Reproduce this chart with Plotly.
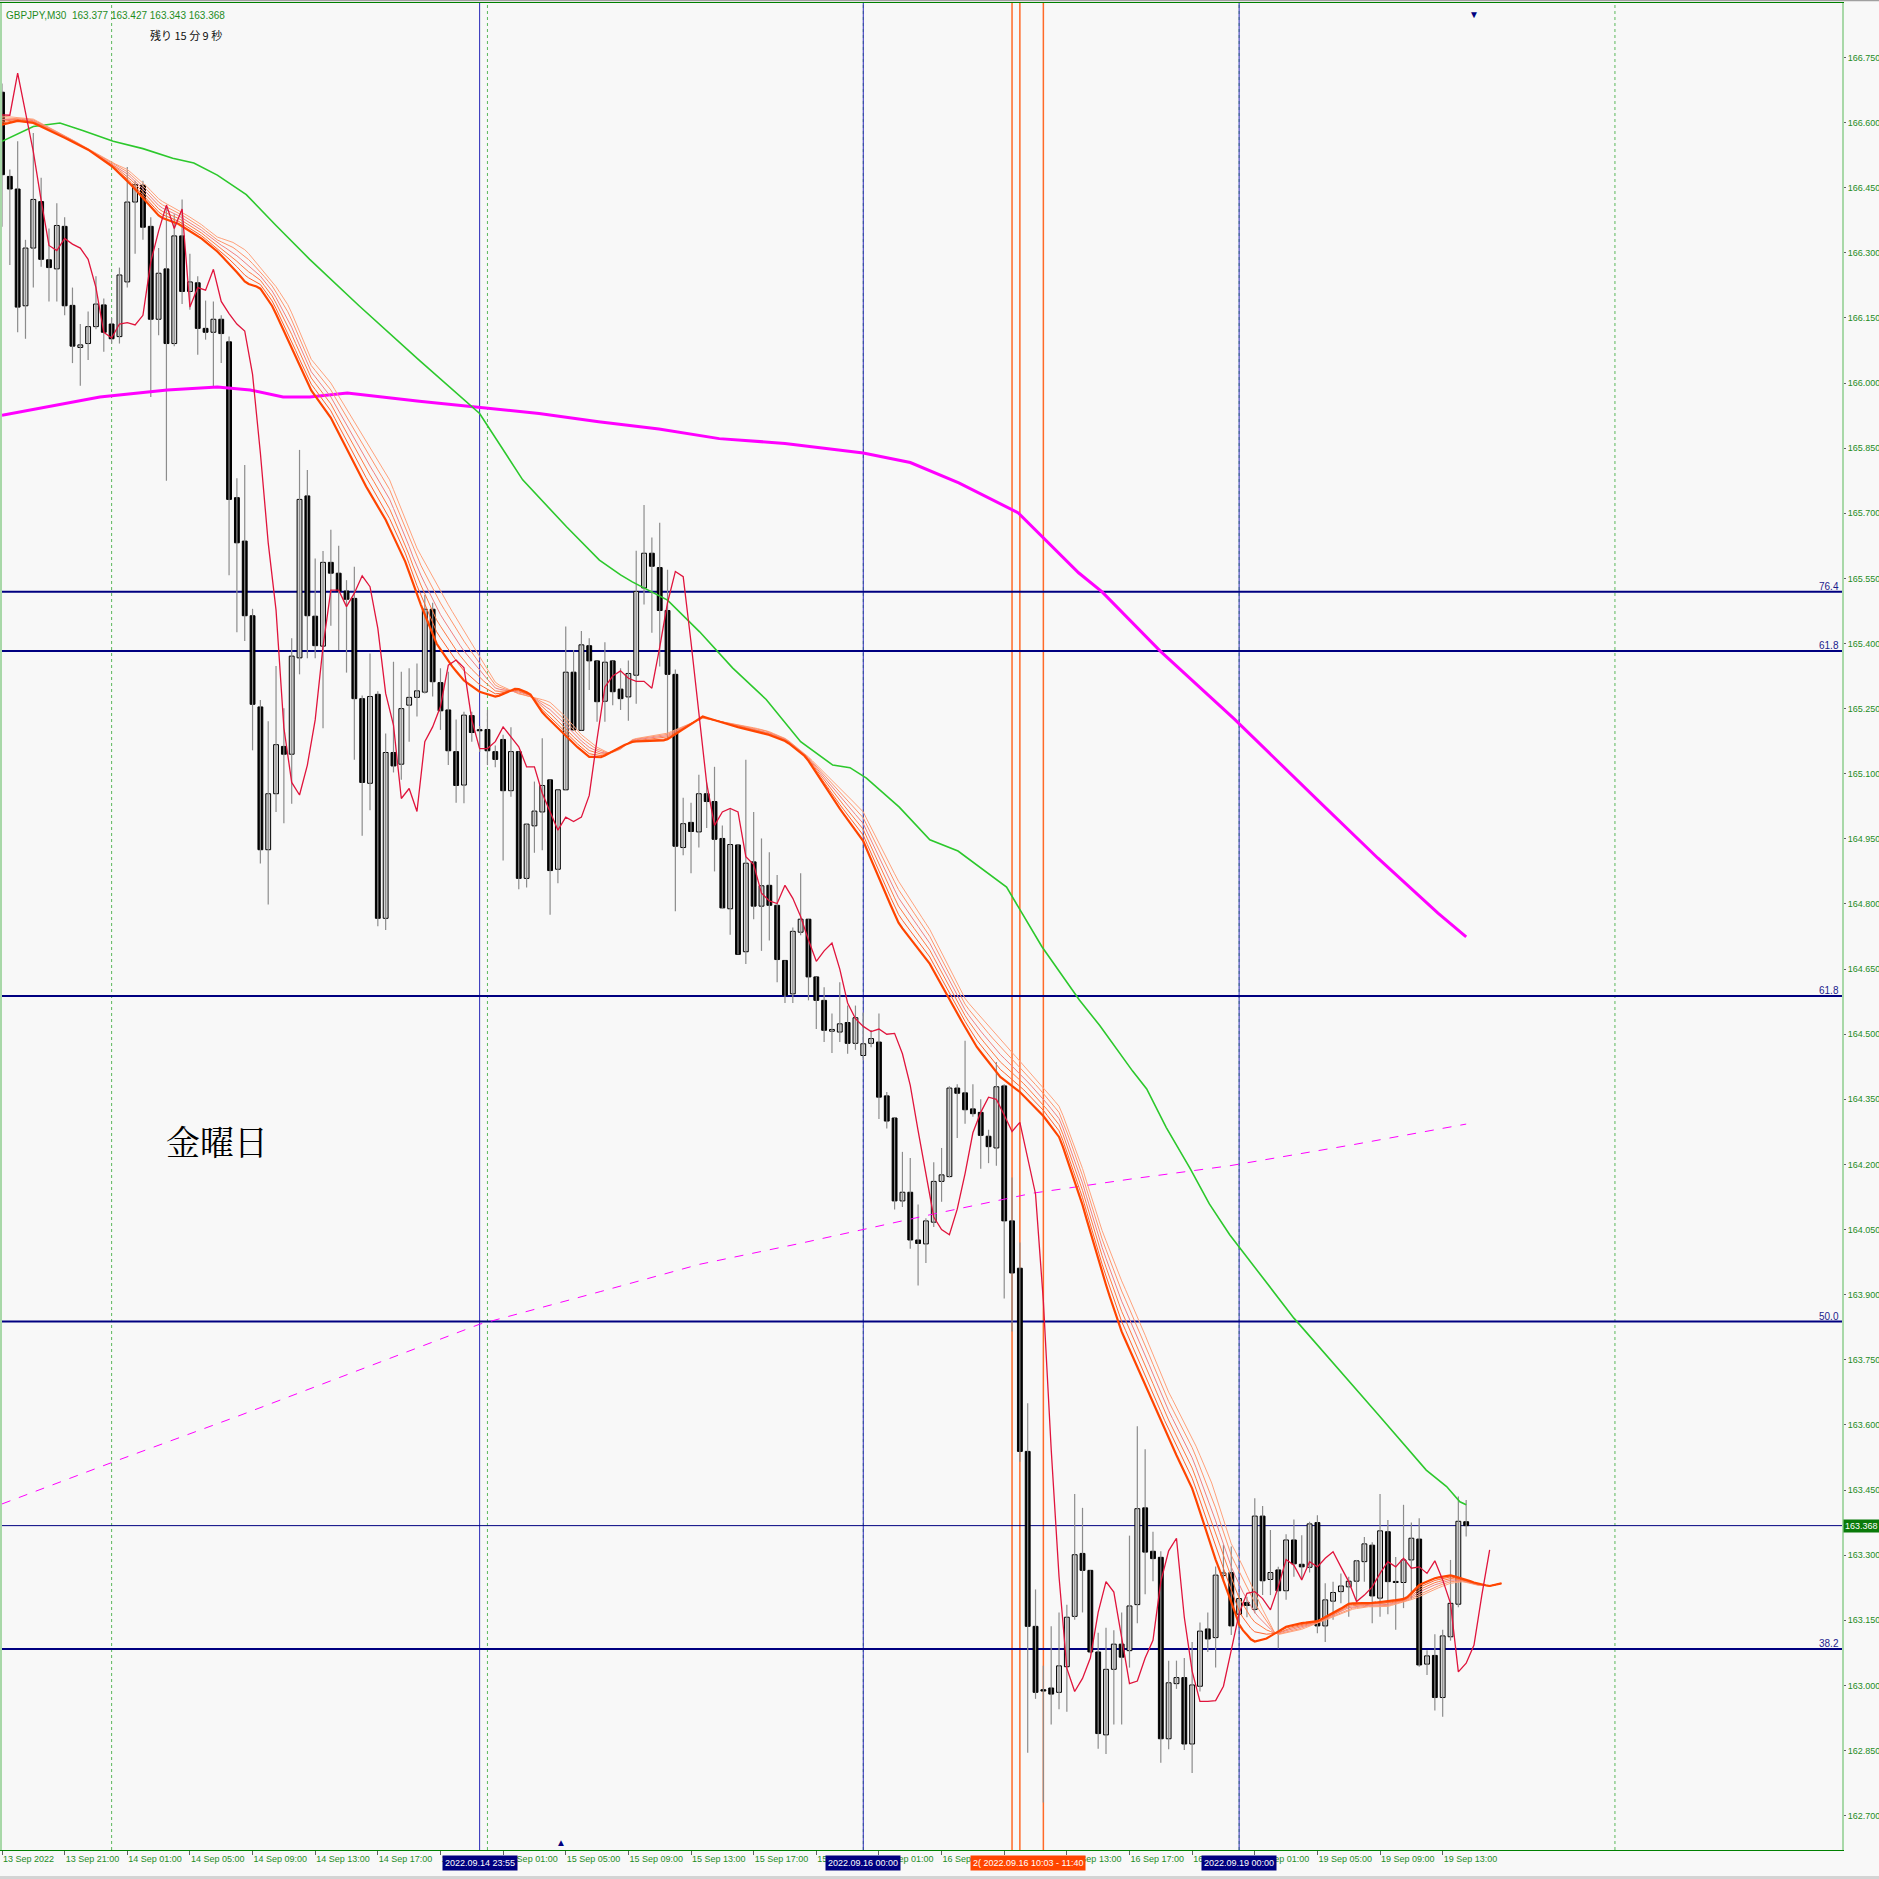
import numpy as np
import plotly.graph_objects as go

# ---------------- data ----------------
OPEN = [166.67,166.476,166.447,166.178,166.311,166.418,166.284,166.263,166.361,166.179,
166.082,166.091,166.13,166.18,166.136,166.107,166.233,166.417,166.456,166.361,
166.147,166.263,166.091,166.339,166.211,166.231,166.126,166.117,166.147,166.095,
165.736,165.636,165.464,165.254,164.925,165.054,165.163,165.145,165.367,165.74,
165.463,165.394,165.587,165.562,165.521,165.504,165.273,165.078,165.283,164.767,
165.149,165.122,165.258,165.276,165.288,165.479,165.31,165.247,165.151,165.074,
165.234,165.201,165.202,165.151,165.179,165.061,165.151,164.859,164.98,165.012,
165.086,164.88,165.063,165.334,165.2,165.395,165.36,165.267,165.36,165.295,
165.277,165.327,165.528,165.608,165.575,165.476,165.329,164.93,164.988,164.966,
165.054,165.036,164.951,164.789,164.936,164.69,164.897,164.795,164.843,164.797,
164.67,164.593,164.735,164.765,164.632,164.578,164.507,164.505,164.527,164.479,
164.451,164.479,164.482,164.358,164.307,164.116,164.136,164.026,164.017,164.067,
164.161,164.172,164.376,164.365,164.328,164.32,164.265,164.238,164.381,164.07,
163.961,163.539,163.136,162.99,162.994,162.984,163.043,163.159,163.304,163.265,
163.077,162.886,163.037,163.095,163.08,163.186,163.409,163.309,163.295,162.877,
163.004,163.018,162.865,162.998,163.13,163.11,163.253,163.26,163.164,163.191,
163.175,163.39,163.244,163.266,163.218,163.335,163.279,163.272,163.375,163.137,
163.194,163.216,163.227,163.24,163.285,163.323,163.201,163.354,163.238,163.237,
163.289,163.337,163.049,163.069,162.972,163.112,163.187,163.377]
HIGH = [166.69,166.492,166.557,166.33,166.576,166.473,166.356,166.414,166.382,166.22,
166.136,166.165,166.246,166.195,166.15,166.266,166.498,166.466,166.466,166.382,
166.311,166.408,166.389,166.423,166.298,166.246,166.19,166.188,166.156,166.107,
165.781,165.811,165.48,165.27,165.221,165.348,165.251,165.412,165.846,165.80,
165.596,165.613,165.662,165.625,165.546,165.577,165.28,165.377,165.29,165.193,
165.358,165.335,165.343,165.354,165.512,165.494,165.343,165.335,165.225,165.243,
165.243,165.21,165.247,165.165,165.19,165.207,165.151,164.984,165.082,165.182,
165.086,165.063,165.439,165.385,165.429,165.412,165.36,165.403,165.36,165.343,
165.361,165.614,165.719,165.644,165.678,165.57,165.34,165.045,165.033,165.098,
165.08,165.116,164.981,165.018,164.936,165.132,165.012,164.951,164.919,164.867,
164.67,164.746,164.871,164.765,164.632,164.608,164.548,164.62,164.566,164.566,
164.55,164.51,164.548,164.367,164.307,164.229,164.215,164.108,164.076,164.205,
164.238,164.38,164.385,164.485,164.385,164.35,164.28,164.436,164.385,164.17,
164.02,163.65,163.221,163.045,163.136,163.168,163.186,163.441,163.409,163.265,
163.121,163.133,163.127,163.168,163.345,163.597,163.544,163.354,163.309,163.057,
163.057,163.063,163.1,163.145,163.168,163.274,163.324,163.32,163.212,163.204,
163.431,163.413,163.358,163.273,163.348,163.382,163.346,163.377,163.392,163.235,
163.239,163.258,163.25,163.289,163.342,163.33,163.441,163.381,163.296,163.416,
163.375,163.385,163.081,163.118,163.128,163.289,163.435,163.427]
LOW = [166.36,166.272,166.117,166.102,166.22,166.268,166.188,166.188,166.156,166.046,
165.994,166.053,166.124,166.072,166.091,166.091,166.22,166.298,166.33,165.968,
166.11,165.775,166.085,166.182,166.169,166.065,166.10,165.992,166.046,165.557,
165.426,165.406,165.154,164.893,164.799,165.012,164.986,165.031,165.329,165.366,
165.366,165.205,165.441,165.385,165.333,165.132,164.957,165.016,164.749,164.74,
165.103,165.086,165.174,165.232,165.285,165.278,165.201,165.12,165.033,165.032,
165.174,165.15,165.12,165.115,164.9,165.047,164.834,164.838,164.918,164.924,
164.775,164.848,165.063,165.2,165.2,165.293,165.22,165.22,165.258,165.247,
165.222,165.261,165.49,165.425,165.347,165.18,164.783,164.912,164.871,164.93,
164.975,164.875,164.791,164.729,164.684,164.662,164.765,164.692,164.716,164.62,
164.572,164.572,164.728,164.578,164.512,164.482,164.457,164.482,164.455,164.464,
164.44,164.47,164.305,164.283,164.096,164.102,164.006,163.921,163.973,164.056,
164.114,164.17,164.261,164.294,164.31,164.19,164.203,164.197,163.891,163.815,
163.515,162.845,162.969,162.73,162.91,162.945,162.939,163.151,163.168,163.074,
162.854,162.842,162.91,162.91,163.041,163.143,163.21,163.24,162.822,162.853,
162.992,162.851,162.798,162.986,163.077,163.041,163.239,163.116,163.135,163.157,
163.166,163.208,163.208,163.085,163.197,163.25,163.246,163.26,163.12,163.1,
163.151,163.189,163.158,163.197,163.239,163.143,163.158,163.164,163.128,163.178,
163.197,163.043,163.024,162.942,162.928,163.103,163.18,163.343]
CLOSE = [166.48,166.447,166.175,166.311,166.423,166.285,166.266,166.363,166.178,166.085,
166.088,166.13,166.182,166.117,166.102,166.249,166.417,166.457,166.359,166.147,
166.253,166.091,166.339,166.211,166.233,166.126,166.117,166.147,166.114,165.732,
165.632,165.464,165.26,164.925,165.054,165.167,165.145,165.371,165.732,165.464,
165.395,165.587,165.562,165.521,165.502,165.273,165.08,165.278,164.767,165.149,
165.118,165.25,165.276,165.291,165.479,165.312,165.245,165.153,165.073,165.235,
165.195,165.199,165.153,165.133,165.061,165.151,164.859,164.984,165.014,165.073,
164.877,165.063,165.334,165.201,165.397,165.36,165.266,165.357,165.289,165.273,
165.331,165.52,165.608,165.578,165.476,165.329,164.933,164.985,164.967,165.054,
165.036,164.949,164.791,164.937,164.684,164.894,164.795,164.842,164.797,164.672,
164.59,164.737,164.765,164.632,164.578,164.509,164.511,164.524,164.479,164.538,
164.478,164.49,164.355,164.3,164.116,164.136,164.026,164.018,164.07,164.161,
164.176,164.376,164.364,164.326,164.317,164.267,164.241,164.379,164.07,163.95,
163.539,163.136,162.984,162.987,162.98,163.045,163.157,163.301,163.265,163.077,
162.889,163.037,163.095,163.065,163.183,163.407,163.307,163.292,162.877,163.006,
163.018,162.865,163.001,163.125,163.107,163.254,163.259,163.137,163.2,163.184,
163.39,163.241,163.26,163.218,163.335,163.28,163.273,163.372,163.137,163.197,
163.214,163.229,163.24,163.287,163.326,163.206,163.356,163.239,163.237,163.289,
163.339,163.047,163.068,162.972,163.114,163.189,163.378,163.368]

# short red MA (shifted forward a few bars)
RED = [166.618,166.617,166.714,166.62,166.533,166.421,166.317,166.305,166.333,166.32,
166.311,166.285,166.22,166.117,166.104,166.136,166.139,166.134,166.156,166.279,
166.35,166.41,166.356,166.401,166.175,166.22,166.214,166.262,166.188,166.16,
166.136,166.12,166.02,165.839,165.632,165.477,165.206,165.08,165.051,165.12,
165.224,165.393,165.523,165.523,165.485,165.516,165.556,165.531,165.435,165.285,
165.212,165.043,165.066,165.013,165.174,165.208,165.255,165.35,165.362,165.344,
165.224,165.158,165.158,165.174,165.208,165.185,165.162,165.116,165.116,165.055,
165.013,164.97,165.0,164.99,165.0,165.05,165.18,165.30,165.325,165.337,
165.32,165.313,165.313,165.297,165.391,165.494,165.566,165.554,165.403,165.247,
165.078,164.981,165.012,165.02,165.012,164.909,164.891,164.825,164.807,164.801,
164.843,164.813,164.771,164.717,164.668,164.692,164.71,164.65,164.572,164.536,
164.518,164.506,164.512,164.5,164.502,164.455,164.382,164.278,164.182,164.079,
164.05,164.038,164.097,164.179,164.273,164.32,164.355,164.35,164.314,164.276,
164.297,164.214,164.132,163.885,163.544,163.251,163.039,162.986,163.016,163.063,
163.168,163.239,163.215,163.11,163.004,163.01,163.063,163.104,163.239,163.31,
163.339,163.157,163.033,162.963,162.963,162.965,162.998,163.081,163.166,163.212,
163.216,163.2,163.174,163.227,163.29,163.277,163.243,163.285,163.273,163.293,
163.308,163.273,163.239,163.193,163.208,163.227,163.258,163.285,163.273,163.293,
163.27,163.273,163.258,163.287,163.243,163.189,163.031,163.051,163.093,163.208,
163.312]

# green MA samples (bar index, price)
GREEN_X = [0,4,7.4,10.3,14.2,18,21.8,24.5,27.5,31.2,35,39.3,45.6,53.2,61,66.5,72.1,76.3,79,80.5,85,
           89.1,93.3,97.6,102,106.1,108.3,110.4,114.6,118.5,122.1,128.3,132.8,137.6,140.2,144.4,
           146.2,148.7,151.7,154.2,156.8,165,175.7,181.9,184.5,186.2,187]
GREEN_Y = [166.557,166.591,166.599,166.582,166.557,166.54,166.518,166.507,166.479,166.434,166.363,
           166.285,166.178,166.054,165.93,165.777,165.669,165.592,165.558,165.542,165.5,165.427,
           165.344,165.271,165.174,165.12,165.114,165.09,165.023,164.948,164.922,164.839,164.702,
           164.579,164.52,164.415,164.374,164.285,164.192,164.109,164.038,163.846,163.625,163.496,
           163.458,163.423,163.416]

# magenta long MA samples
MAG_X = [0,12.5,21.1,27.5,31.7,35.9,39.3,44.1,53.3,61,68.6,76.2,83.9,91.6,100,110,116,122.2,
         129.8,137.5,140.5,147.9,157.4,168.1,175.7,183.4,187]
MAG_Y = [165.926,165.968,165.984,165.991,165.984,165.968,165.968,165.977,165.958,165.944,165.93,
         165.911,165.894,165.872,165.861,165.839,165.817,165.77,165.701,165.563,165.519,165.383,
         165.226,165.038,164.906,164.779,164.724]

# magenta dashed MA samples
MAGD_X = [0,15,30.4,45.7,61,76.4,89.1,101.9,118.5,131.7,144.4,156.8,172.7,187]
MAGD_Y = [163.418,163.52,163.622,163.727,163.832,163.907,163.97,164.018,164.084,164.134,164.167,
          164.197,164.246,164.293]

# orange ribbon: fastest (dark) edge and slowest (light) edge
RIB_FAST_X = [0,2,4,6.1,8.2,10.8,13.7,16,18,20.2,22.3,25.2,27.4,29.5,31.2,32.9,34.6,36.7,39.3,42,46,
              49,51.6,52.9,55.5,57.2,58.9,61,63.1,65.7,67.4,69.1,70.8,72.9,75,76.6,78.9,80.6,84.8,
              89.5,93.3,97.6,100.2,102.7,106.1,110,112.5,114.6,118.5,121,124.4,127.4,130,132.9,
              135.1,137.6,140.2,142.7,145.3,148.7,152.1,154.6,156.8,158.1,159.8,161.5,164,165.7,
              167.9,170,172.1,174.2,176.8,179.3,181,182.8,184.9,186.6,188.3,190,191.5]
RIB_FAST_Y = [166.595,166.604,166.599,166.582,166.563,166.54,166.505,166.466,166.427,166.382,166.369,
              166.337,166.305,166.266,166.23,166.22,166.175,166.091,165.988,165.92,165.777,165.685,
              165.585,165.516,165.4,165.354,165.316,165.289,165.277,165.297,165.285,165.239,165.208,
              165.17,165.139,165.138,165.162,165.174,165.177,165.232,165.21,165.192,165.174,165.138,
              165.042,164.945,164.837,164.753,164.662,164.579,164.473,164.403,164.367,164.314,
              164.261,164.132,163.968,163.827,163.721,163.58,163.45,163.309,163.204,163.135,163.1,
              163.108,163.135,163.143,163.147,163.166,163.189,163.189,163.193,163.2,163.231,163.246,
              163.254,163.246,163.235,163.229,163.235]
RIB_SLOW_X = [0,4,8.2,13.7,16,18,20.2,22.3,25.2,27.4,29.5,31.2,32.9,34.6,36.7,39.3,42,46,49.5,52.9,
              55.9,58.9,61,63.1,65.7,67.8,69.9,71.6,73.8,75.9,77.6,78.9,80.6,84.8,89.5,93.3,97.6,
              100.2,102.7,106.1,110,112.5,114.6,118.5,123.1,126.5,130,132.9,135.1,137.6,140.2,
              142.7,145.3,148.7,152.1,154.6,156.8,158.1,160.6,162.7,165.7,167.9,170,172.1,174.2,
              176.8,179.3,181,182.8,184.9,186.6,188.3,190,191.5]
RIB_SLOW_Y = [166.615,166.608,166.569,166.511,166.492,166.462,166.421,166.401,166.369,166.337,166.324,
              166.305,166.268,166.233,166.175,166.059,166.0,165.88,165.777,165.623,165.523,165.431,
              165.37,165.308,165.285,165.277,165.266,165.239,165.193,165.162,165.147,165.155,165.18,
              165.192,165.228,165.216,165.2,165.18,165.144,165.084,165.012,164.921,164.849,164.741,
              164.579,164.508,164.438,164.379,164.332,164.214,164.062,163.944,163.838,163.686,
              163.568,163.462,163.333,163.289,163.189,163.116,163.127,163.143,163.158,163.174,
              163.181,163.181,163.193,163.204,163.22,163.235,163.239,163.231,163.229,163.235]

# horizontal levels
FIB_LEVELS = [165.519, 165.383, 164.588, 163.838, 163.084]
FIB_LABELS = ["76.4", "61.8", "61.8", "50.0", "38.2"]
BID = 163.368

# vertical markers (bar index)
BLUE_VLINES = [61, 110, 158]
BLUE_VLABELS = ["2022.09.14 23:55", "2022.09.16 00:00", "2022.09.19 00:00"]
ORANGE_VLINES = [129.0, 130.0, 133.0]
ORANGE_LABEL = "2( 2022.09.16 10:03 - 11:40"
DAY_SEPS = [14, 62, 110, 158, 206]

# axes
X_TICKS = list(range(0, 185, 8))
X_LABELS = ["13 Sep 2022", "13 Sep 21:00", "14 Sep 01:00", "14 Sep 05:00", "14 Sep 09:00",
            "14 Sep 13:00", "14 Sep 17:00", "14 Sep 21:00", "15 Sep 01:00", "15 Sep 05:00",
            "15 Sep 09:00", "15 Sep 13:00", "15 Sep 17:00", "15 Sep 21:00", "16 Sep 01:00",
            "16 Sep 05:00", "16 Sep 09:00", "16 Sep 13:00", "16 Sep 17:00", "16 Sep 21:00",
            "19 Sep 01:00", "19 Sep 05:00", "19 Sep 09:00", "19 Sep 13:00"]
Y_TICKS = [round(162.7 + 0.15 * k, 3) for k in range(28)]
X_RANGE = [0.0, 235.0]
Y_RANGE = [162.6208, 166.8755]

# ---------------- figure ----------------
W = H = 1879
ML, MR, MT, MB = 2, 37, 3, 29
PW = W - ML - MR
PH = H - MT - MB

o = np.array(OPEN); h = np.array(HIGH); l = np.array(LOW); c = np.array(CLOSE)
idx = np.arange(len(o))
up = c >= o

fig = go.Figure()

# wicks
wx, wy = [], []
for i in idx:
    wx += [i, i, None]
    wy += [l[i], h[i], None]
fig.add_trace(go.Scatter(x=wx, y=wy, mode="lines", line=dict(color="#8c8c8c", width=1.2),
                         hoverinfo="skip"))

# bodies
def body(mask, fill):
    base = np.minimum(o, c)[mask]
    ht = np.maximum(np.abs(c - o)[mask], 0.0025)
    fig.add_trace(go.Bar(x=idx[mask], y=ht, base=base, width=0.62,
                         marker=dict(color=fill, line=dict(color="#000000", width=1))))
body(up, "#d6d6d6")
body(~up, "#000000")

# moving averages
fig.add_trace(go.Scatter(x=MAGD_X, y=MAGD_Y, mode="lines",
                         line=dict(color="#ff00ff", width=1, dash="dash")))
fig.add_trace(go.Scatter(x=MAG_X, y=MAG_Y, mode="lines", line=dict(color="#ff00ff", width=3)))
fig.add_trace(go.Scatter(x=GREEN_X, y=GREEN_Y, mode="lines", line=dict(color="#2cc82c", width=1.6)))

grid = np.arange(0, 191.51, 0.5)
fast = np.interp(grid, RIB_FAST_X, RIB_FAST_Y)
slow = np.interp(grid, RIB_SLOW_X, RIB_SLOW_Y)
rib_cols = ["#ffa27c", "#ff936a", "#f08080", "#ff7a45", "#ff6430", "#ff4500"]
n = len(rib_cols)
for k, col in enumerate(rib_cols):
    t = k / (n - 1)
    yy = slow + (fast - slow) * t
    fig.add_trace(go.Scatter(x=grid, y=yy, mode="lines",
                             line=dict(color=col, width=2.2 if k == n - 1 else 1)))

fig.add_trace(go.Scatter(x=list(range(len(RED))), y=RED, mode="lines",
                         line=dict(color="#e0143c", width=1.3)))

shapes = []
for d in DAY_SEPS:
    shapes.append(dict(type="line", xref="x", yref="paper", x0=d, x1=d, y0=0, y1=1, layer="below",
                       line=dict(color="#5cb85c", width=1, dash="dot")))
for v in BLUE_VLINES:
    shapes.append(dict(type="line", xref="x", yref="paper", x0=v, x1=v, y0=0, y1=1, layer="below",
                       line=dict(color="#2a2ab8", width=1)))
for v in ORANGE_VLINES:
    shapes.append(dict(type="line", xref="x", yref="paper", x0=v, x1=v, y0=0, y1=1, layer="below",
                       line=dict(color="#ff6a28", width=1.5)))
for f in FIB_LEVELS:
    shapes.append(dict(type="line", xref="paper", yref="y", x0=0, x1=1, y0=f, y1=f, layer="below",
                       line=dict(color="#000080", width=2)))
shapes.append(dict(type="line", xref="paper", yref="y", x0=0, x1=1, y0=BID, y1=BID, layer="below",
                   line=dict(color="#000080", width=1)))
# window edges
shapes.append(dict(type="line", xref="paper", yref="paper", x0=-0.01, x1=1.03,
                   y0=-(MB - 1.5) / PH, y1=-(MB - 1.5) / PH,
                   line=dict(color="#d4d4d4", width=3)))
shapes.append(dict(type="line", xref="paper", yref="paper", x0=-0.01, x1=1.03,
                   y0=1 + (MT - 0.5) / PH, y1=1 + (MT - 0.5) / PH,
                   line=dict(color="#a0a0a0", width=1.5)))

ann = []
fontn = "Liberation Sans Narrow, Arial Narrow, Liberation Sans, Arial, sans-serif"
for f, t in zip(FIB_LEVELS, FIB_LABELS):
    ann.append(dict(xref="paper", yref="y", x=0.9995, y=f, text=t, showarrow=False,
                    xanchor="right", yanchor="bottom", yshift=-2,
                    font=dict(family=fontn, size=10, color="#1c1c8c")))
ann.append(dict(xref="paper", yref="y", x=1.0008, y=BID, text=f"{BID:.3f}", showarrow=False,
                xanchor="left", yanchor="middle", bgcolor="#0a7a0a", borderpad=1,
                font=dict(family=fontn, size=9, color="#ffffff")))
ylab = -13.0 / PH
for v, t in zip(BLUE_VLINES, BLUE_VLABELS):
    ann.append(dict(xref="x", yref="paper", x=v, y=ylab, text=t, showarrow=False,
                    xanchor="center", yanchor="middle", bgcolor="#000080", borderpad=2,
                    font=dict(family=fontn, size=9, color="#ffffff")))
ann.append(dict(xref="x", yref="paper", x=131.0, y=ylab, text=ORANGE_LABEL, showarrow=False,
                xanchor="center", yanchor="middle", bgcolor="#ff4500", borderpad=2,
                font=dict(family=fontn, size=9, color="#ffffff")))
hdr = f"GBPJPY,M30  {OPEN[-1]:.3f} {HIGH[-1]:.3f} {LOW[-1]:.3f} {CLOSE[-1]:.3f}"
ann.append(dict(xref="paper", yref="paper", x=2 / PW, y=1 - 13 / PH, text=hdr, showarrow=False,
                xanchor="left", yanchor="middle", font=dict(family=fontn, size=10, color="#1e8c1e")))
ann.append(dict(xref="paper", yref="paper", x=146 / PW, y=1 - 32 / PH, text="残り 15 分 9 秒",
                showarrow=False, xanchor="left", yanchor="middle",
                font=dict(family="Noto Sans CJK JP", size=11, color="#111111")))
ann.append(dict(xref="paper", yref="paper", x=215 / PW, y=1 - 1137 / PH, text="金曜日",
                showarrow=False, xanchor="center", yanchor="middle",
                font=dict(family="Noto Serif CJK JP, Noto Sans CJK JP", size=34, color="#000000")))
ann.append(dict(xref="paper", yref="paper", x=1472 / PW, y=1 - 2 / PH, text="▼", showarrow=False,
                xanchor="center", yanchor="top", font=dict(size=10, color="#000080")))
ann.append(dict(xref="paper", yref="paper", x=559 / PW, y=0.0, text="▲", showarrow=False,
                xanchor="center", yanchor="bottom", yshift=-1, font=dict(size=10, color="#000080")))

fig.update_layout(
    width=W, height=H, margin=dict(l=ML, r=MR, t=MT, b=MB, pad=0, autoexpand=False),
    paper_bgcolor="#f8f8f8", plot_bgcolor="#f8f8f8",
    showlegend=False, barmode="overlay", hovermode=False,
    shapes=shapes, annotations=ann,
    xaxis=dict(range=X_RANGE, tickmode="array", tickvals=X_TICKS, ticktext=X_LABELS,
               showgrid=False, zeroline=False, showline=True, linecolor="#008000", linewidth=1,
               mirror=True, ticks="outside", ticklen=4, tickcolor="#606060", tickangle=0,
               automargin=False, ticklabelposition="outside right",
               tickfont=dict(family=fontn, size=9, color="#1e8c1e")),
    yaxis=dict(range=Y_RANGE, side="right", tickmode="array", tickvals=Y_TICKS,
               tickformat=".3f", showgrid=False, zeroline=False, showline=True, automargin=False,
               linecolor="#a8d8a8", linewidth=2, mirror=True, ticks="outside", ticklen=2,
               tickcolor="#606060", tickfont=dict(family=fontn, size=9, color="#1e8c1e")),
)

fig.write_html("out.html", config={"displayModeBar": False},
               post_script="document.body.style.margin='0';document.body.style.overflow='hidden';")
